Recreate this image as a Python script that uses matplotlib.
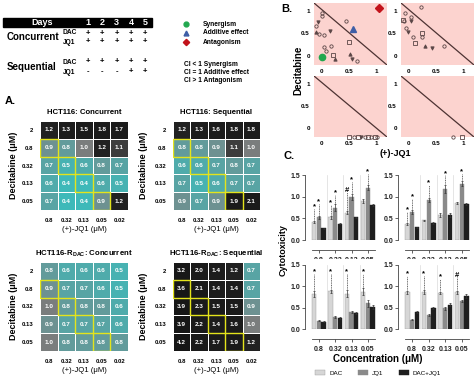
import numpy as np
import matplotlib
matplotlib.use('Agg')
import matplotlib.pyplot as plt
from matplotlib.colors import LinearSegmentedColormap
from matplotlib.patches import Rectangle, Patch

plt.rcParams['font.family'] = ['Liberation Sans', 'DejaVu Sans']
plt.rcParams['mathtext.fontset'] = 'custom'
plt.rcParams['mathtext.rm'] = 'Liberation Sans'
plt.rcParams['mathtext.bf'] = 'Liberation Sans:bold'

W, H = 474, 379

# ---- schedule table ----
days = [1, 2, 3, 4, 5]
conc_dac = ['+', '+', '+', '+', '+']
conc_jq1 = ['+', '+', '+', '+', '+']
seq_dac = ['+', '+', '+', '+', '+']
seq_jq1 = ['-', '-', '-', '+', '+']

# ---- CI heatmaps ----
dac_doses = ['2', '0.8', '0.32', '0.13', '0.05']
jq1_doses = ['0.8', '0.32', '0.13', '0.05', '0.02']
ci_hct_conc = [[1.2, 1.3, 1.5, 1.8, 1.7],
               [0.9, 0.8, 1.0, 1.2, 1.1],
               [0.7, 0.5, 0.6, 0.8, 0.7],
               [0.6, 0.4, 0.4, 0.6, 0.5],
               [0.7, 0.4, 0.4, 0.9, 1.2]]
ci_hct_seq = [[1.2, 1.3, 1.6, 1.8, 1.8],
              [0.8, 0.8, 0.9, 1.1, 1.0],
              [0.6, 0.6, 0.7, 0.8, 0.7],
              [0.7, 0.5, 0.6, 0.7, 0.7],
              [0.9, 0.7, 0.9, 1.9, 2.1]]
ci_rdac_conc = [[0.8, 0.6, 0.6, 0.6, 0.5],
                [0.9, 0.7, 0.7, 0.6, 0.5],
                [1.0, 0.8, 0.8, 0.8, 0.6],
                [0.9, 0.7, 0.7, 0.7, 0.6],
                [1.0, 0.8, 0.8, 0.8, 0.8]]
ci_rdac_seq = [[3.2, 2.0, 1.4, 1.2, 0.7],
               [3.6, 2.1, 1.4, 1.4, 0.7],
               [3.9, 2.3, 1.5, 1.5, 0.9],
               [3.9, 2.2, 1.4, 1.6, 1.0],
               [4.2, 2.2, 1.7, 1.9, 1.2]]

# ---- isobolograms (x, y, marker) ----
iso_tl = [(0.0, 0.96, 'o'), (0.0, 0.88, 'o'), (-0.06, 0.76, 'v'), (-0.11, 0.67, 'o'),
          (-0.10, 0.52, '^'), (-0.04, 0.49, 'o'), (0.05, 0.47, 'o'), (0.44, 0.78, 'o'),
          (0.16, 0.56, 'v'), (0.49, 0.30, 's'), (0.04, 0.20, 'o'), (0.17, 0.22, 'o'),
          (0.08, 0.10, 'o'), (0.20, 0.02, 's'), (0.25, -0.07, '^'), (0.51, 0.05, '^'),
          (0.56, -0.07, 'v'), (0.64, -0.12, 'o')]
iso_tr = [(0.22, 1.09, 'o'), (-0.06, 0.96, 'o'), (0.04, 0.87, 'o'), (-0.10, 0.80, 's'),
          (-0.08, 0.77, 'o'), (0.04, 0.77, 'v'), (-0.04, 0.61, 'o'), (-0.02, 0.52, 'v'),
          (0.25, 0.51, 's'), (0.25, 0.42, 'o'), (0.07, 0.42, 'o'), (0.11, 0.29, 's'),
          (0.30, 0.23, '^'), (0.42, 0.17, 'v'), (0.65, 0.21, 'o')]
iso_bl = [(0.49, -0.2, 's'), (0.59, -0.2, 'o'), (0.66, -0.2, 's'), (0.72, -0.2, 'v'),
          (0.79, -0.2, 'o'), (0.84, -0.2, 's'), (0.89, -0.2, 'o'), (0.97, -0.2, 's'),
          (1.00, -0.2, 'o')]
iso_br = [(0.81, -0.2, 'o'), (0.97, -0.2, 's')]
key_syn = (0.0, -0.02)
key_add = (0.57, 0.60)
key_ant = (1.05, 1.05)

# ---- cytotoxicity bars ----
conc_labels = ['0.8', '0.32', '0.13', '0.05']
tl_dac = [0.42, 0.52, 0.63, 0.90]; tl_jq1 = [0.52, 0.75, 1.00, 1.21]; tl_cmb = [0.27, 0.38, 0.52, 0.81]
tl_dac_e = [0.03, 0.03, 0.03, 0.04]; tl_jq1_e = [0.03, 0.07, 0.07, 0.05]; tl_cmb_e = [0.01, 0.02, 0.02, 0.03]
tr_dac = [0.37, 0.46, 0.58, 0.85]; tr_jq1 = [0.65, 0.92, 1.18, 1.30]; tr_cmb = [0.29, 0.39, 0.57, 0.83]
tr_dac_e = [0.02, 0.01, 0.04, 0.03]; tr_jq1_e = [0.04, 0.05, 0.10, 0.06]; tr_cmb_e = [0.01, 0.03, 0.05, 0.03]
bl_dac = [0.83, 0.88, 0.83, 0.87]; bl_jq1 = [0.19, 0.28, 0.40, 0.60]; bl_cmb = [0.17, 0.26, 0.37, 0.52]
bl_dac_e = [0.07, 0.04, 0.08, 0.08]; bl_jq1_e = [0.01, 0.02, 0.03, 0.08]; bl_cmb_e = [0.01, 0.02, 0.02, 0.05]
br_dac = [0.86, 0.87, 0.84, 0.86]; br_jq1 = [0.22, 0.32, 0.48, 0.66]; br_cmb = [0.40, 0.49, 0.57, 0.77]
br_dac_e = [0.04, 0.04, 0.02, 0.03]; br_jq1_e = [0.01, 0.02, 0.03, 0.03]; br_cmb_e = [0.02, 0.02, 0.03, 0.04]
# (group, bar, height, symbol)
tl_sig = [(0, 0, 0.77, '*'), (0, 1, 0.88, '*'), (1, 0, 0.86, '*'), (1, 1, 1.09, '*'),
          (2, 0, 1.15, '#'), (2, 1, 1.38, '*'), (3, 1, 1.58, '*')]
tr_sig = [(0, 0, 0.69, '*'), (0, 1, 1.00, '*'), (1, 1, 1.31, '*'), (2, 1, 1.54, '*'), (3, 1, 1.58, '*')]
bl_sig = [(0, 0, 1.33, '*'), (1, 0, 1.33, '*'), (2, 0, 1.33, '*'), (3, 0, 1.33, '*')]
br_sig = [(0, 0, 1.30, '*'), (1, 0, 1.30, '*'), (2, 0, 1.22, '*'), (3, 0, 1.26, '#')]
bar_names = ['DAC', 'JQ1', 'DAC+JQ1']
bar_colors = ['#d6d6d6', '#8a8a8a', '#1e1e1e']

fig = plt.figure(figsize=(W / 100, H / 100), dpi=100)


def add(x0, y0, x1, y1):
    return fig.add_axes([x0 / W, 1 - y1 / H, (x1 - x0) / W, (y1 - y0) / H])


def ftext(x, y, s, **kw):
    fig.text(x / W, 1 - y / H, s, **kw)


# overlay in pixel coords for the table and key
ov = add(0, 0, W, H)
ov.set_xlim(0, W)
ov.set_ylim(H, 0)
ov.axis('off')

ov.add_patch(Rectangle((3, 18), 149, 9, color='black'))
ftext(42, 22.5, 'Days', color='white', fontsize=6.5, fontweight='bold', ha='center', va='center')
day_x = [88 + (d - 1) * 14.3 for d in days]
for d, x in zip(days, day_x):
    ftext(x, 22.5, str(d), color='white', fontsize=6.5, fontweight='bold', ha='center', va='center')
ftext(7, 37.5, 'Concurrent', fontsize=7, fontweight='bold', va='center')
ftext(7, 67, 'Sequential', fontsize=7, fontweight='bold', va='center')
for y, lab, signs in [(33, 'DAC', conc_dac), (42, 'JQ1', conc_jq1), (62, 'DAC', seq_dac), (72, 'JQ1', seq_jq1)]:
    ftext(63, y, lab, fontsize=4.8, fontweight='bold', va='center')
    for x, s in zip(day_x, signs):
        ftext(x, y, s, fontsize=5.5, fontweight='bold', ha='center', va='center')

ov.plot(186, 24, 'o', color='#22a84f', ms=3.5)
ov.plot(186, 33, '^', color='#3e5ea6', ms=3.5)
ov.plot(186, 42, 'D', color='#c2131b', ms=3.2)
for y, s in [(24, 'Synergism'), (33, 'Additive effect'), (42, 'Antagonism')]:
    ftext(203, y, s, fontsize=4.8, fontweight='bold', va='center')
for y, s in [(65, 'CI < 1 Synergism'), (73, 'CI = 1 Additive effect'), (81, 'CI > 1 Antagonism')]:
    ftext(184, y, s, fontsize=4.8, fontweight='bold', va='center')

# panel letters
ftext(5, 101, 'A.', fontsize=8, fontweight='bold', va='center')
ftext(281, 9, 'B.', fontsize=8, fontweight='bold', va='center')
ftext(283, 156, 'C.', fontsize=8, fontweight='bold', va='center')

ci_cmap = LinearSegmentedColormap.from_list('ci', [
    (0.0, '#2fc3c3'), (0.05, '#3fb8b8'), (0.12, '#59a3a3'), (0.17, '#6f8f8f'),
    (0.19, '#7b7b7b'), (0.21, '#3f3f3f'), (0.24, '#1c1c1c'), (1.0, '#151515')])
CI_MIN, CI_MAX = 0.2, 4.4


def heatmap(box, data, title, ylab_x):
    ax = add(*box)
    arr = np.array(data)
    ax.pcolormesh(arr, cmap=ci_cmap, vmin=CI_MIN, vmax=CI_MAX, edgecolors='white', linewidth=0.6)
    ax.set_xlim(0, arr.shape[1])
    ax.set_ylim(arr.shape[0], 0)
    for r in range(arr.shape[0]):
        for c in range(arr.shape[1]):
            ax.text(c + 0.5, r + 0.5, f'{arr[r, c]:.1f}', ha='center', va='center',
                    color='white', fontsize=4.6, fontweight='bold')
    for k in range(1, arr.shape[0]):
        ax.add_patch(Rectangle((k - 1, k), 1, 1, fill=False, edgecolor='#e4e41c', lw=1.0, zorder=5))
    ax.set_xticks(np.arange(arr.shape[1]) + 0.5, jq1_doses)
    ax.set_yticks(np.arange(arr.shape[0]) + 0.5, dac_doses)
    ax.tick_params(length=0, labelsize=4.3)
    ax.tick_params(axis='x', pad=6)
    ax.tick_params(axis='y', pad=5)
    for t in ax.get_xticklabels() + ax.get_yticklabels():
        t.set_fontweight('bold')
    for s in ax.spines.values():
        s.set_visible(False)
    ax.set_title(title, fontsize=5.6, fontweight='bold', pad=5)
    ax.set_xlabel('(+)-JQ1 (μM)', fontsize=5.6, labelpad=2)
    ftext(ylab_x, (box[1] + box[3]) / 2, 'Decitabine (μM)', rotation=90, fontsize=6.5,
          fontweight='bold', ha='center', va='center')


heatmap((40, 121, 128, 210), ci_hct_conc, 'HCT116: Concurrent', 13)
heatmap((173, 121, 260, 210), ci_hct_seq, 'HCT116: Sequential', 144)
heatmap((40, 262, 128, 351), ci_rdac_conc, r'HCT116-R$_\mathbf{DAC}$: Concurrent', 13)
heatmap((173, 262, 260, 351), ci_rdac_seq, r'HCT116-R$_\mathbf{DAC}$: Sequential', 144)

ISO_X = (-0.14, 1.19)
ISO_Y = (-0.2, 1.17)


def isobologram(box, pts, key=False):
    ax = add(*box)
    ax.set_facecolor('#fcd3cf')
    ax.set_xlim(*ISO_X)
    ax.set_ylim(*ISO_Y)
    ax.plot([ISO_X[0], ISO_X[1]], [ISO_Y[1], ISO_Y[0]], color='#4d3333', lw=0.9)
    for x, y, m in pts:
        filled = m in ('v', '^')
        ax.plot(x, y, m, ms=2.4, mec='#5a4646', mew=0.6,
                mfc='#5a4646' if filled else 'none', clip_on=False, zorder=4)
    if key:
        ax.plot(*key_syn, 'o', color='#22a84f', ms=4.5, zorder=5)
        ax.plot(*key_add, '^', color='#3e5ea6', ms=4.5, zorder=5)
        ax.plot(*key_ant, 'D', color='#c2131b', ms=3.8, zorder=5)
    ax.set_xticks([0, 0.5, 1], ['0', '0.5', '1'])
    ax.set_yticks([0, 0.5, 1], ['0', '0.5', '1'])
    ax.tick_params(length=0, labelsize=4.5, pad=3)
    for t in ax.get_xticklabels() + ax.get_yticklabels():
        t.set_fontweight('bold')
    for s in ax.spines.values():
        s.set_visible(False)


isobologram((314, 3, 387, 65), iso_tl, key=True)
isobologram((401, 3, 474, 65), iso_tr)
isobologram((314, 76, 387, 137), iso_bl)
isobologram((401, 76, 474, 137), iso_br)
ftext(298, 70, 'Decitabine', rotation=90, fontsize=7, fontweight='bold', ha='center', va='center')
ftext(395, 154, '(+)-JQ1', fontsize=6.5, fontweight='bold', ha='center', va='center')

STEP = 3.5  # distance between concentration groups, in bar widths


def bars(box, series, errs, sig):
    ax = add(*box)
    ng = len(conc_labels)
    nb = len(series)
    for b, (vals, ee) in enumerate(zip(series, errs)):
        xs = [g * STEP + b for g in range(ng)]
        ax.bar(xs, vals, width=0.92, color=bar_colors[b], edgecolor='#9a9a9a' if b == 0 else bar_colors[b],
               linewidth=0.3, yerr=ee, capsize=0.8,
               error_kw=dict(elinewidth=0.5, capthick=0.5, ecolor='#333333'))
    for g in range(1, ng):
        ax.axvline(g * STEP - 0.75, 0, 1.5 / 1.65, color='#dadada', lw=0.5)
    for g, b, y, sym in sig:
        x = g * STEP + b
        top = series[b][g] + errs[b][g]
        ax.vlines(x, top + 0.02, y - 0.05, color='#333333', lw=0.5, linestyles=(0, (1.5, 1)))
        ax.text(x, y, sym, ha='center', va='center', fontsize=5.5, fontweight='bold')
    right = (ng - 1) * STEP + nb - 0.5
    ax.set_xlim(-2.0, right + 1.1)
    ax.set_ylim(0, 1.65)
    ax.set_yticks([0, 0.5, 1.0, 1.5], ['0.0', '0.5', '1.0', '1.5'])
    ax.set_xticks([g * STEP + 1 for g in range(ng)], conc_labels)
    for s in ('top', 'right'):
        ax.spines[s].set_visible(False)
    ax.spines['left'].set_bounds(0, 1.5)
    ax.spines['bottom'].set_position(('outward', 7))
    ax.spines['bottom'].set_bounds(-0.5, right)
    for s in ('left', 'bottom'):
        ax.spines[s].set_linewidth(0.6)
        ax.spines[s].set_color('#444444')
    ax.tick_params(length=2, width=0.5, labelsize=5, pad=1.5, colors='#222222')
    ax.tick_params(axis='x', pad=3)
    for t in ax.get_xticklabels() + ax.get_yticklabels():
        t.set_fontweight('bold')


bars((305, 168.5, 380, 240), [tl_dac, tl_jq1, tl_cmb], [tl_dac_e, tl_jq1_e, tl_cmb_e], tl_sig)
bars((398, 168.5, 474, 240), [tr_dac, tr_jq1, tr_cmb], [tr_dac_e, tr_jq1_e, tr_cmb_e], tr_sig)
bars((305, 258.5, 380, 329), [bl_dac, bl_jq1, bl_cmb], [bl_dac_e, bl_jq1_e, bl_cmb_e], bl_sig)
bars((398, 258.5, 474, 329), [br_dac, br_jq1, br_cmb], [br_dac_e, br_jq1_e, br_cmb_e], br_sig)

ftext(283, 250, 'Cytotoxicity', rotation=90, fontsize=6.5, fontweight='bold', ha='center', va='center')
ftext(378, 359, 'Concentration (μM)', fontsize=7, fontweight='bold', ha='center', va='center')
handles = [Patch(facecolor=c, edgecolor='#9a9a9a' if i == 0 else c, linewidth=0.3)
           for i, c in enumerate(bar_colors)]
fig.legend(handles, bar_names, loc='center', bbox_to_anchor=(378 / W, 1 - 373 / H), ncol=3,
           frameon=False, fontsize=4.5, handlelength=1.6, handleheight=0.8, columnspacing=2.5,
           handletextpad=0.6)

fig.savefig('out.png', dpi=100)
